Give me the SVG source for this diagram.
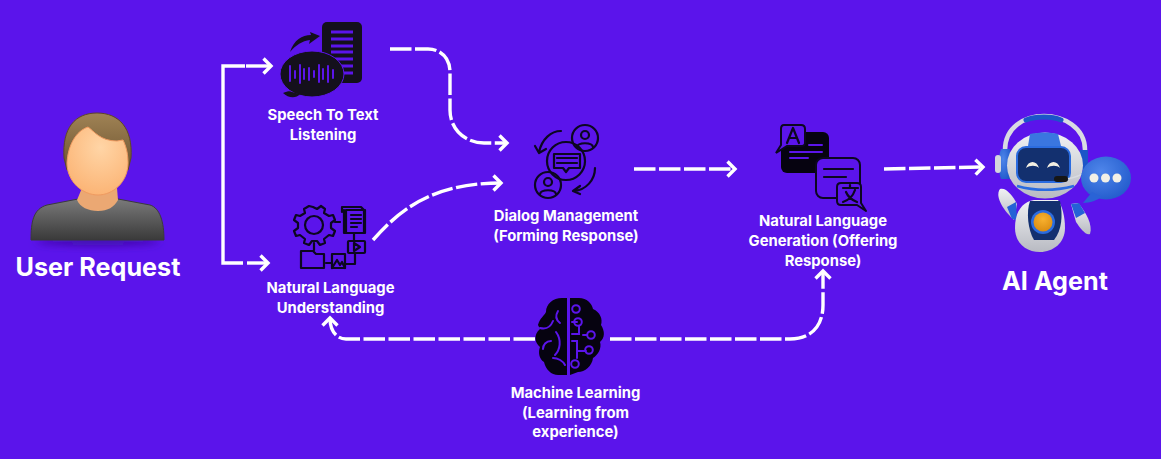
<svg xmlns="http://www.w3.org/2000/svg" width="1161" height="459" viewBox="0 0 1161 459">
<style>
.t{font-family:"Inter","Liberation Sans",sans-serif;font-weight:700;font-size:14.8px;fill:#fff;text-anchor:middle}
.big{font-size:25.200px}
.c{fill:none;stroke:#fff;stroke-width:3.4}
.d{stroke-dasharray:21.5 3.5}
.i{fill:none;stroke:#0c0720;stroke-width:2.2;stroke-linejoin:round;stroke-linecap:round}
.k{fill:#14101c}
.p{stroke:#5b14eb;stroke-width:2;fill:none;stroke-linecap:round}
</style>
<defs>
<marker id="a" markerUnits="userSpaceOnUse" markerWidth="16" markerHeight="20" refX="12" refY="8" orient="auto" overflow="visible"><path d="M4.500 .5L12 8L4.500 15.500" fill="none" stroke="#fff" stroke-width="3.4"/></marker>
<linearGradient id="hair" x1="0" y1="0" x2="0" y2="1"><stop offset="0" stop-color="#a08355"/><stop offset="1" stop-color="#6d5330"/></linearGradient>
<radialGradient id="skin" cx=".55" cy=".3" r=".8"><stop offset="0" stop-color="#ffd5a6"/><stop offset="1" stop-color="#fbb06f"/></radialGradient>
<linearGradient id="shirt" x1="0" y1="0" x2="0" y2="1"><stop offset="0" stop-color="#7a7a7a"/><stop offset="1" stop-color="#3a3a3a"/></linearGradient>
<linearGradient id="shell" x1="0" y1="0" x2="0" y2="1"><stop offset="0" stop-color="#f1f2f4"/><stop offset="1" stop-color="#b8bac2"/></linearGradient>
<radialGradient id="blue" cx=".4" cy=".35" r=".8"><stop offset="0" stop-color="#4f86ea"/><stop offset="1" stop-color="#1c55c8"/></radialGradient>
<radialGradient id="orange" cx=".5" cy=".35" r=".7"><stop offset="0" stop-color="#f8b12f"/><stop offset="1" stop-color="#d98a10"/></radialGradient>
<filter id="blur" x="-30%" y="-100%" width="160%" height="300%"><feGaussianBlur stdDeviation="4"/></filter>
</defs>
<rect width="1161" height="459" fill="#5b14eb"/>

<g id="connectors">
<path class="c" d="M245 66H223V263H243"/>
<path class="c" d="M246 66H271" marker-end="url(#a)"/>
<path class="c" d="M247 263H268" marker-end="url(#a)"/>
<path class="c d" d="M390 49H428C442 49 450 60 450 72V110C450 130 466 143 484 143H507" marker-end="url(#a)"/>
<path class="c d" d="M373 240C398 212 430 183 501 183" marker-end="url(#a)"/>
<path class="c d" d="M634 169H735" marker-end="url(#a)"/>
<path class="c d" d="M884 169L983 167" marker-end="url(#a)"/>
<path class="c d" d="M535 339H346C336 339 330 330 330 318" marker-end="url(#a)"/>
<path class="c d" d="M610 339H790C812 339 823 325 823 305V271" marker-end="url(#a)"/>
</g>

<g id="user">
<ellipse cx="98" cy="241" rx="62" ry="4" fill="#3a0a9e" filter="url(#blur)"/>
<path d="M31 240C31 222 33 209 47 205L78 199H118L150 205C160 208 164 222 164 240Z" fill="url(#shirt)" stroke="#3b3b3b"/>
<path d="M82 188L77 200C80 207 88 211 98 211C108 211 114 207 118 200L117 188Z" fill="#eba873"/>
<path d="M64 158C62 128 75 113 97 113C119 113 133 128 131 158L128 170L67 170Z" fill="url(#hair)" stroke="#5f4726"/>
<path d="M67 163C68 145 76 131 88 127C94 131 100 141 117 141L123 140C127 148 128 156 128 163C128 182 113 195 98 195C83 195 67 182 67 163Z" fill="url(#skin)" stroke="#ef9a60"/>
<text class="t big" x="98" y="276">User Request</text>
</g>

<g id="speech">
<rect x="322" y="22" width="40" height="61" rx="5" class="k"/>
<path stroke="#5b14eb" stroke-width="3" d="M331 32H353M331 39H353M331 46H353M331 52H353M331 59H353M331 66H353M331 73H353"/>
<path class="k" d="M290 52C294 40 302 35 311 35L310 32L320 36L309 44L310 40C302 41 296 45 290 52Z"/>
<ellipse cx="312" cy="74" rx="32" ry="23" fill="#14101c" stroke="#5b14eb"/>
<path class="p" d="M290 66V81M295 71V78M300 65V83M304 69V79M309 68V80M314 71V77M319 65V82M323 69V79M328 66V82M333 70V78"/>
<path class="k" d="M283 93C288 91 290 91 292 92L300 94C296 99 288 98 283 93Z"/>
<text class="t" x="323" y="120">Speech To Text</text>
<text class="t" x="323" y="140">Listening</text>
</g>

<g id="nlu">
<path class="i" d="M320 207L324 209L328 206L332 209L331 213L336 216L340 215L342 220L338 223V228L342 231L340 236L336 235L331 239L332 243L327 245L324 241H319L316 245L311 243L312 239L307 235L303 236L301 231L305 228V223L301 220L303 215L307 216L312 213L311 209L316 206Z" transform="translate(-7,0)"/>
<circle class="i" cx="314" cy="225" r="9"/>
<path class="i" d="M335 222H340M314 243V250M326 263H331M354 234V240M355 254V264H346"/>
<path class="i" d="M342 212V207H361L364 210V233H344V210"/>
<rect class="i" x="346" y="210" width="19" height="23" fill="#5b14eb"/>
<path class="i" d="M351 215H361M351 219H361M351 223H361M351 227H357"/>
<rect class="i" x="348" y="241" width="17" height="12" rx="1"/>
<path class="i" d="M354 243V251L360 247Z"/>
<path class="i" d="M301 268V251H313L316 254H324V268Z"/>
<rect class="i" x="332" y="254" width="13" height="14"/>
<path class="i" d="M332 268L337 260L340 265L342 262L345 268"/>
<text class="t" x="330.500" y="293">Natural Language</text>
<text class="t" x="330.500" y="313">Understanding</text>
</g>

<g id="dialog">
<circle class="i" cx="566" cy="161" r="19"/>
<path class="i" d="M554 154H580V168H569L566 172L563 168H554Z"/>
<path class="i" d="M557 158H577M557 163H577"/>
<circle class="i" cx="585" cy="138" r="13"/>
<circle class="i" cx="585" cy="135" r="4"/>
<path class="i" d="M577 147C578 142 592 142 593 147"/>
<circle class="i" cx="548" cy="185" r="13"/>
<circle class="i" cx="548" cy="182" r="4"/>
<path class="i" d="M540 194C541 189 555 189 556 194"/>
<path class="i" d="M561 131C551 131 542 139 539 152M535 146L539 153L546 149"/>
<path class="i" d="M595 168C595 180 586 190 574 191M580 186L573 191L580 194"/>
<text class="t" x="566" y="221">Dialog Management</text>
<text class="t" x="566" y="241">(Forming Response)</text>
</g>

<g id="nlg">
<rect x="781" y="132" width="48" height="41" rx="6" fill="#060310"/>
<path class="p" d="M809 145H822M790 152H822M790 158H808"/>
<path fill="#5b14eb" stroke="#0c0720" stroke-width="2" d="M784 125H801C804 125 805 126 805 129V143C805 145 804 146 801 146H787L776 153L781 145V129C781 126 782 125 784 125Z"/>
<path class="i" d="M787 143L793 128L799 143M789.500 138H797"/>
<rect x="816" y="158" width="44" height="40" rx="7" fill="#5b14eb" stroke="#0c0720" stroke-width="2"/>
<path class="i" d="M824 169H853M824 177H846"/>
<path fill="#5b14eb" stroke="#0c0720" stroke-width="2" stroke-linejoin="round" d="M841 183C838 183 837 184 837 187V201C837 204 838 205 841 205H857L866 211L861 203V187C861 184 860 183 857 183Z"/>
<path class="i" d="M843 188H858M850 185V188M855 190C853 196 849 200 843 202M846 192C848 197 852 200 857 202"/>
<text class="t" x="823" y="226">Natural Language</text>
<text class="t" x="823" y="246">Generation (Offering</text>
<text class="t" x="823" y="266">Response)</text>
</g>

<g id="agent">
<path d="M1005 150C1005 127 1025 116 1044 116C1063 116 1085 127 1085 150" fill="none" stroke="#d9dbe2" stroke-width="4.500"/>
<path d="M1026 120C1036 116 1052 116 1061 120" fill="none" stroke="#1c55c8" stroke-width="5" stroke-linecap="round"/>
<path d="M1001 149H1010V179H1001C998 172 998 156 1001 149Z" fill="url(#blue)"/>
<rect x="995" y="155" width="6" height="18" rx="3" fill="#d4d6dc"/>
<path d="M1080 150H1088V170H1080Z" fill="#1c55c8"/>
<ellipse cx="1045" cy="165.500" rx="38" ry="33" fill="url(#shell)"/>
<path d="M1030 134C1040 132 1050 132 1058 134L1061 146H1028Z" fill="#3a76e0"/>
<rect x="1017" y="147" width="53" height="35" rx="9" fill="#13306f" stroke="#2b6ce0" stroke-width="2"/>
<path d="M1026 168C1028 160 1037 160 1039 168C1036 165 1030 165 1026 168ZM1047 168C1049 160 1058 160 1060 168C1057 165 1051 165 1047 168Z" fill="#f3efe2"/>
<path d="M1017 186C1035 191 1055 191 1074 186" fill="none" stroke="#2b6ce0" stroke-width="2.500"/>
<path d="M1066 179C1075 178 1082 175 1088 170" fill="none" stroke="#d9dbe2" stroke-width="1.500"/>
<rect x="1054" y="176" width="14" height="6" rx="3" fill="#161616"/>
<path d="M1000 189C1006 187 1013 196 1017 204L1014 220C1005 212 994 197 1000 189Z" fill="url(#shell)"/>
<path d="M1007 207L1016 202L1017 220L1012 219Z" fill="#2562d6"/>
<path d="M1015 228C1015 212 1022 202 1034 200H1058C1062 206 1065 216 1065 228C1065 243 1053 252 1040 252C1026 252 1015 243 1015 228Z" fill="url(#shell)"/>
<path d="M1071 204L1078 203C1086 212 1093 225 1090 234C1086 236 1080 228 1076 222Z" fill="url(#shell)"/>
<path d="M1071 204L1079 203L1085 213L1076 218Z" fill="#2562d6"/>
<path d="M1030 201H1060C1063 215 1062 230 1054 240H1034C1028 230 1026 212 1030 201Z" fill="#13306f"/>
<circle cx="1043" cy="222" r="12" fill="#2b6ce0"/>
<circle cx="1043" cy="222" r="9.500" fill="url(#orange)"/>
<ellipse cx="1106" cy="178" rx="25" ry="21.500" fill="url(#blue)"/>
<path d="M1092 192L1083 203C1090 203 1097 200 1102 197Z" fill="#2a63d6"/>
<circle cx="1094" cy="178" r="4.500" fill="#f3f0e6"/>
<circle cx="1105.500" cy="178" r="4.500" fill="#f3f0e6"/>
<circle cx="1117" cy="178" r="4.500" fill="#f3f0e6"/>
<text class="t big" x="1055" y="290">AI Agent</text>
</g>

<g id="ml">
<path fill="#060310" d="M567 298V375H560C552 376 546 370 544 362C539 359 538 352 540 347C535 343 533 335 540 329L538 325C540 318 544 316 546 312C546 304 553 298 562 298Z"/>
<path fill="#060310" d="M570 298H577C586 297 592 303 593 309C600 312 603 319 601 325C605 331 605 338 600 342C602 348 598 355 593 358C592 366 585 372 578 372L570 375Z"/>
<path class="p" d="M558 311C555 316 556 320 560 323M540 328C548 330 551 326 553 321M556 332C562 340 560 350 555 355M551 341C546 341 543 345 543 349M553 358C558 358 563 361 565 365"/>
<path class="p" d="M572 322H577M579 326V334H572M572 341H577V358M577 351H586M583 335H587"/>
<circle cx="576" cy="309" r="3.800" class="p"/>
<circle cx="578" cy="322" r="3.800" class="p"/>
<circle cx="591" cy="335" r="3.800" class="p"/>
<circle cx="589" cy="350" r="3.800" class="p"/>
<circle cx="575" cy="364" r="3.800" class="p"/>
<text class="t" x="575.500" y="398">Machine Learning</text>
<text class="t" x="575.500" y="418">(Learning from</text>
<text class="t" x="575.500" y="437">experience)</text>
</g>
</svg>
